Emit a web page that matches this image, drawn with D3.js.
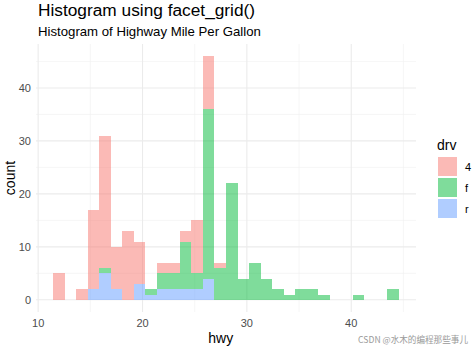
<!DOCTYPE html>
<html><head><meta charset="utf-8">
<script src="https://cdn.jsdelivr.net/npm/d3@7"></script>
<style>body{margin:0;background:#fff}svg{display:block;font-family:"Liberation Sans",Arial,sans-serif}</style>
</head><body><svg id="c" width="474" height="348"></svg>
<script>
const drvLevels = ["4", "f", "r"];
const drvColors = ["#F8766D", "#00BA38", "#619CFF"];
const hwyMin = 12, hwyMax = 44, nBins = 30;
const count4 = [5,0,2,15,25,8,13,8,0,2,2,2,10,10,1,0,0,0,0,0,0,0,0,0,0,0,0,0,0,0];
const countF = [0,0,0,0,1,0,0,0,1,3,3,9,3,32,6,22,4,7,4,2,1,2,2,1,0,0,1,0,0,2];
const countR = [0,0,0,2,5,2,0,3,1,2,2,2,2,4,0,0,0,0,0,0,0,0,0,0,0,0,0,0,0,0];
const xTicks = [10, 20, 30, 40];
const yTicks = [0, 10, 20, 30, 40];
const xMinor = [15, 25, 35, 45];
const yMinor = [5, 15, 25, 35, 45];

const svg = d3.select("#c");
const panel = {l: 36, r: 416, t: 44, b: 312};
const bw = (hwyMax - hwyMin) / (nBins - 1);
const bins = d3.range(nBins).map(i => ({i, x0: hwyMin - bw/2 + i*bw, x1: hwyMin + bw/2 + i*bw}));
const table = bins.map(b => ({i: b.i, x0: b.x0, x1: b.x1, "4": count4[b.i], f: countF[b.i], r: countR[b.i]}));
const stack = d3.stack().keys(["r", "f", "4"])(table);

const lo = hwyMin - bw/2, hi = hwyMax + bw/2;
const ex = (hi - lo) * 0.05;
const x = d3.scaleLinear().domain([lo - ex, hi + ex]).range([panel.l, panel.r]);
const ymax = d3.max(table, d => d["4"] + d.f + d.r);
const y = d3.scaleLinear().domain([-ymax*0.05, ymax*1.05]).range([panel.b, panel.t]);

const grid = svg.append("g");
xMinor.forEach(v => grid.append("line").attr("x1", x(v)).attr("x2", x(v)).attr("y1", panel.t).attr("y2", panel.b).attr("stroke", "#f0f0f0").attr("stroke-width", 0.6));
yMinor.forEach(v => grid.append("line").attr("y1", y(v)).attr("y2", y(v)).attr("x1", panel.l).attr("x2", panel.r).attr("stroke", "#f0f0f0").attr("stroke-width", 0.6));
xTicks.forEach(v => grid.append("line").attr("x1", x(v)).attr("x2", x(v)).attr("y1", panel.t).attr("y2", panel.b).attr("stroke", "#ebebeb").attr("stroke-width", 1.1));
yTicks.forEach(v => grid.append("line").attr("y1", y(v)).attr("y2", y(v)).attr("x1", panel.l).attr("x2", panel.r).attr("stroke", "#ebebeb").attr("stroke-width", 1.1));

const colorOf = k => drvColors[drvLevels.indexOf(k)];
svg.append("g").attr("shape-rendering", "crispEdges").selectAll("g").data(stack).join("g")
  .attr("fill", d => colorOf(d.key)).attr("fill-opacity", 0.5)
  .selectAll("rect").data(d => d.filter(s => s[1] > s[0])).join("rect")
  .attr("x", d => x(d.data.x0)).attr("width", d => x(d.data.x1) - x(d.data.x0))
  .attr("y", d => y(d[1])).attr("height", d => y(d[0]) - y(d[1]));

const ax = svg.append("g").attr("fill", "#4d4d4d").attr("font-size", 11);
xTicks.forEach(v => ax.append("text").attr("x", x(v)).attr("y", 327).attr("text-anchor", "middle").text(v));
yTicks.forEach(v => ax.append("text").attr("x", 31).attr("y", y(v) + 4).attr("text-anchor", "end").text(v));

svg.append("text").attr("x", x(27.5)).attr("y", 343).attr("text-anchor", "middle").attr("font-size", 14).attr("fill", "#000").text("hwy");
svg.append("text").attr("transform", `translate(15,${(panel.t+panel.b)/2}) rotate(-90)`).attr("text-anchor", "middle").attr("font-size", 14).attr("fill", "#000").text("count");

svg.append("text").attr("x", 38).attr("y", 16).attr("font-size", 17.3).attr("fill", "#000").text("Histogram using facet_grid()");
svg.append("text").attr("x", 38).attr("y", 35.5).attr("font-size", 13.2).attr("fill", "#000").text("Histogram of Highway Mile Per Gallon");

const lg = svg.append("g");
lg.append("text").attr("x", 437).attr("y", 150).attr("font-size", 14).attr("fill", "#000").text("drv");
drvLevels.forEach((k, i) => {
  lg.append("rect").attr("x", 438).attr("y", 157 + i*21).attr("width", 19).attr("height", 19).attr("fill", drvColors[i]).attr("fill-opacity", 0.5);
  lg.append("text").attr("x", 465).attr("y", 171 + i*21).attr("font-size", 11).attr("fill", "#000").text(k);
});

svg.append("text").attr("x", 468).attr("y", 343).attr("text-anchor", "end").attr("font-size", 8.6).attr("fill", "#9a9a9a").attr("font-family", "'Noto Sans CJK SC',sans-serif").text("CSDN @水木的编程那些事儿");
</script></body></html>
